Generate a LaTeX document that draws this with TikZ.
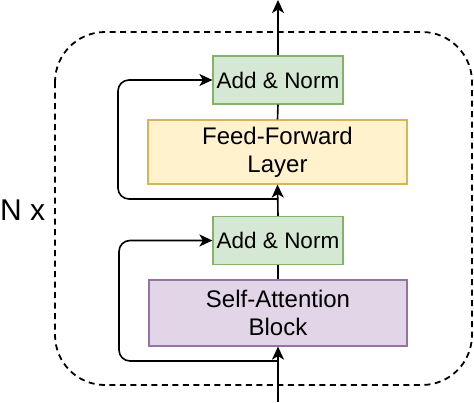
\documentclass[tikz,border=0pt]{standalone}
\usepackage{fontspec}
\setmainfont{Liberation Sans}
\usetikzlibrary{arrows.meta}
\definecolor{gfill}{HTML}{D5E8D4}\definecolor{gdraw}{HTML}{82B366}
\definecolor{yfill}{HTML}{FFF2CC}\definecolor{ydraw}{HTML}{D6B656}
\definecolor{pfill}{HTML}{E1D5E7}\definecolor{pdraw}{HTML}{9673A6}
\begin{document}
\begin{tikzpicture}[x=1pt,y=-1pt,
  box/.style={draw, line width=1.2pt, inner sep=0pt, align=center,
    font=\fontsize{22.5}{28}\selectfont},
  anbox/.style={box, fill=gfill, draw=gdraw, minimum width=130pt, minimum height=48pt},
  ffbox/.style={box, fill=yfill, draw=ydraw, minimum width=259pt, minimum height=64pt, font=\fontsize{24}{28}\selectfont},
  sabox/.style={box, fill=pfill, draw=pdraw, minimum width=258pt, minimum height=66pt, font=\fontsize{24}{28}\selectfont},
  conn/.style={line width=1.6pt},
  arr/.style={conn, -{Stealth[length=13pt,width=12pt,inset=3.5pt]}},
  frame/.style={line width=1.8pt, dash pattern=on 6pt off 4.5pt, rounded corners=50pt}]
\useasboundingbox (0,0) rectangle (474,402);
\draw[frame] (55,32) rectangle (472,385);
\node[anbox] (an1) at (278,80) {Add \& Norm};
\node[ffbox] (ff) at (277.5,152) {Feed-Forward\\Layer};
\node[anbox] (an2) at (278,240.5) {Add \& Norm};
\node[sabox] (sa) at (278,313) {Self-Attention\\Block};
\node[anchor=base west, inner sep=0pt, font=\fontsize{30}{30}\selectfont] (nx) at (0,220) {N x};
\coordinate (top) at (278,0);
\coordinate (bot) at (278,402);
\coordinate (s1) at (278,199);
\coordinate (s2) at (278,361);
\coordinate (l1b) at (118,199);
\coordinate (l1t) at (118,80);
\coordinate (l2b) at (119,361);
\coordinate (l2t) at (119,240.5);
\draw[arr] (bot) -- (sa.south);
\draw[conn] (sa.north) -- (an2.south);
\draw[arr] (an2.north) -- (ff.south);
\draw[conn] (ff.north) -- (an1.south);
\draw[arr] (an1.north) -- (top);
\draw[arr, rounded corners=11pt] (s1) -- (l1b) -- (l1t) -- (an1.west);
\draw[arr, rounded corners=11pt] (s2) -- (l2b) -- (l2t) -- (an2.west);
\end{tikzpicture}
\end{document}
